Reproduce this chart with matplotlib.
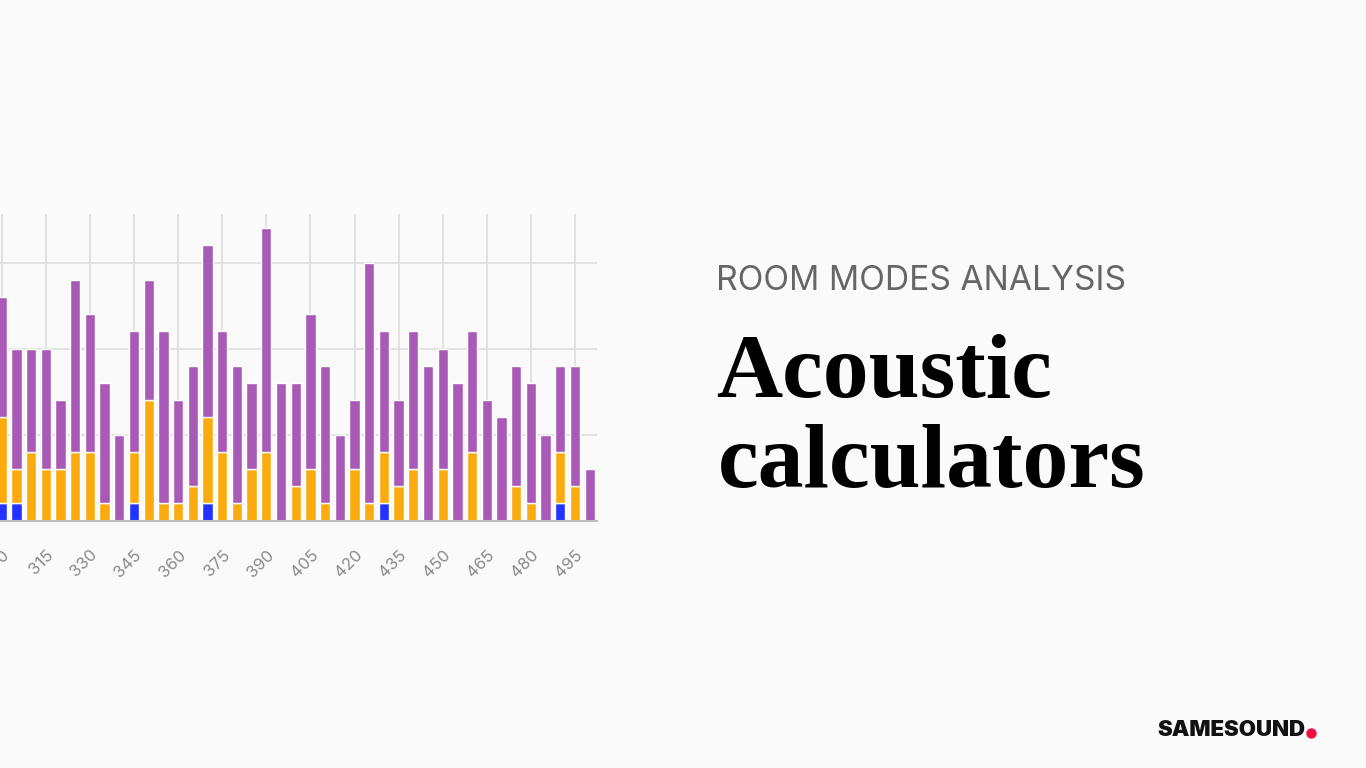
import numpy as np
import matplotlib.pyplot as plt
from matplotlib.lines import Line2D

# room mode counts per 5 Hz bin (visible part of the chart, 300-500 Hz)
freqs = list(range(300, 505, 5))
axial = [1, 1, 0, 0, 0, 0, 0, 0, 0, 1, 0, 0, 0, 0,
         1, 0, 0, 0, 0, 0, 0, 0, 0, 0, 0, 0, 1,
         0, 0, 0, 0, 0, 0, 0, 0, 0, 0, 0, 1, 0, 0]
tangential = [5, 2, 4, 3, 3, 4, 4, 1, 0, 3, 7, 1, 1, 2,
              5, 4, 1, 3, 4, 0, 2, 3, 1, 0, 3, 1, 3,
              2, 3, 0, 3, 0, 4, 0, 0, 2, 1, 0, 3, 2, 0]
oblique = [7, 7, 6, 7, 4, 10, 8, 7, 5, 7, 7, 10, 6, 7,
           10, 7, 8, 5, 13, 8, 6, 9, 8, 5, 4, 14, 7,
           5, 8, 9, 7, 8, 7, 7, 6, 7, 7, 5, 5, 7, 3]
xticks = list(range(300, 500, 15))

c_axial = '#2233ff'
c_tang = '#fbab0d'
c_obl = '#a95ab6'
bg = '#fafafa'

fig = plt.figure(figsize=(13.66, 7.68), dpi=100, facecolor=bg)

W, H = 1366, 768
px_per_hz = 2.94
x_left = 1.7 - 2.5 * px_per_hz
x_right = 1.7 + 202.5 * px_per_hz
y_top, y_bot = 214, 520.7
ax = fig.add_axes([x_left / W, (H - y_bot) / H, (x_right - x_left) / W, (y_bot - y_top) / H])
ax.set_facecolor(bg)

axial = np.array(axial)
tangential = np.array(tangential)
oblique = np.array(oblique)
bw = 3.5
ax.bar(freqs, axial, width=bw, color=c_axial, edgecolor='white', linewidth=1, zorder=3)
ax.bar(freqs, tangential, width=bw, bottom=axial, color=c_tang, edgecolor='white', linewidth=1, zorder=3)
ax.bar(freqs, oblique, width=bw, bottom=axial + tangential, color=c_obl, edgecolor='white', linewidth=1, zorder=3)

ax.set_xlim(297.5, 502.5)
ax.set_ylim(0, 17.83)
ax.set_xticks(xticks)
ax.set_xticklabels([str(t) for t in xticks], rotation=45, ha='right', rotation_mode='anchor',
                   fontsize=12, color='#8a8a8a', family='Inter')
ax.set_yticks([0, 5, 10, 15])
ax.set_yticklabels([])
ax.tick_params(axis='both', length=0)
ax.tick_params(axis='x', pad=19)
ax.grid(True, color='#e0e0e0', linewidth=1.3, zorder=0)
ax.set_axisbelow(True)
for s in ['top', 'right', 'left']:
    ax.spines[s].set_visible(False)
ax.spines['bottom'].set_color('#bdbdbd')
ax.spines['bottom'].set_linewidth(1.5)
ax.spines['bottom'].set_zorder(4)

# right-hand text
fig.text(716 / W, 1 - 290.5 / H, 'ROOM MODES ANALYSIS', fontsize=24.2, color='#666666',
         family='Inter', va='baseline', ha='left')
fig.text(716 / W, 1 - 397 / H, 'Acoustic', fontsize=66, color='black',
         family='Liberation Serif', fontweight='bold', va='baseline', ha='left')
fig.text(718 / W, 1 - 487 / H, 'calculators', fontsize=66, color='black',
         family='Liberation Serif', fontweight='bold', va='baseline', ha='left')

# logo
fig.text(1157 / W, 1 - 736 / H, 'SAMESOUND', fontsize=16, color='#111111',
         family='Inter', fontweight='black', va='baseline', ha='left')
fig.add_artist(Line2D([1311 / W], [1 - 733 / H], transform=fig.transFigure, marker='o',
                      markersize=6.5, color='#ee1144', linestyle='none'))

fig.savefig('out.png', dpi=100, facecolor=bg)
